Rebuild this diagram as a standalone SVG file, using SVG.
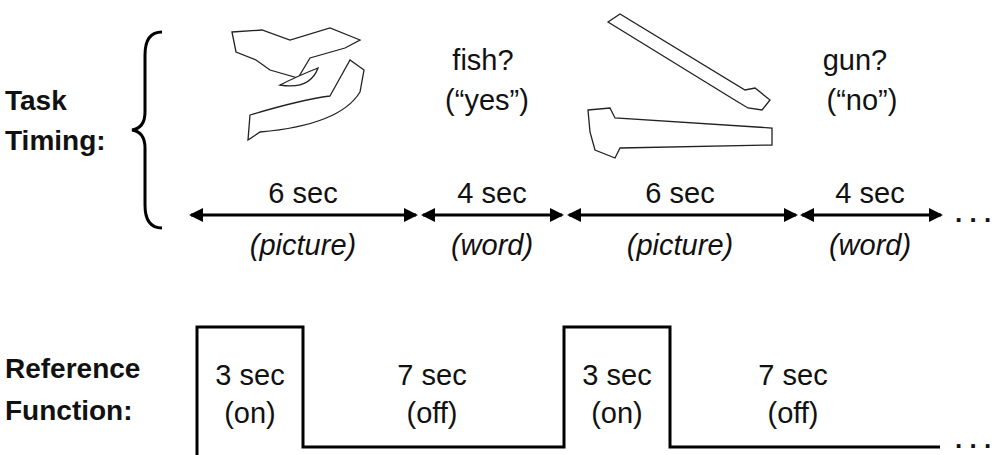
<svg xmlns="http://www.w3.org/2000/svg" width="999" height="455" viewBox="0 0 999 455">
<style>
text{font-family:"Liberation Sans",Arial,sans-serif;fill:#111}
.t{font-size:29px;text-anchor:middle}
.b{font-size:28px;font-weight:bold}
.i{font-style:italic}
.d{font-size:26px;font-weight:bold}
.ln{stroke:#000;stroke-width:3;fill:none}
.dr{stroke:#222;stroke-width:1.3;fill:#fff}
</style>
<defs>
<marker id="a" markerWidth="14" markerHeight="14" refX="12" refY="7" orient="auto-start-reverse" markerUnits="userSpaceOnUse" viewBox="0 0 14 14">
<path d="M0,0 L14,7 L0,14 z" fill="#000"/>
</marker>
</defs>
<g id="labels">
<text class="b" x="5" y="110">Task</text>
<text class="b" x="5" y="150">Timing:</text>
<text class="b" x="5" y="378">Reference</text>
<text class="b" x="5" y="420">Function:</text>
<path class="ln" stroke-width="2.5" d="M162,32 Q145,32 145,55 L145,112 Q145,128 132,130 Q145,132 145,148 L145,205 Q145,228 162,228"/>
</g>
<g id="pictures">
<path class="dr" d="M232,32 L262,30 L290,40 L330,28 L360,40 L345,48 L310,58 L298,78 L270,70 L256,60 L236,52 Z"/>
<path class="dr" d="M318,68 Q310,90 280,85 Q300,75 318,68 Z"/>
<path class="dr" d="M250,115 Q300,100 330,96 L350,60 L364,70 L360,92 Q340,125 260,132 L248,140 Z"/>
<path class="dr" d="M608,22 L620,14 L745,90 L755,88 L770,100 L762,110 L748,108 L738,102 Z"/>
<path class="dr" d="M588,110 L610,108 L615,118 L772,128 L772,145 L620,148 L615,158 L595,150 L590,132 Z"/>
</g>
<g id="texts">
<text class="t" x="483" y="70">fish?</text>
<text class="t" x="487" y="110">(“yes”)</text>
<text class="t" x="855" y="70">gun?</text>
<text class="t" x="862" y="110">(“no”)</text>
<text class="t" x="303" y="203">6 sec</text>
<text class="t" x="492" y="203">4 sec</text>
<text class="t" x="680" y="203">6 sec</text>
<text class="t" x="870" y="203">4 sec</text>
<text class="t i" x="303" y="255">(picture)</text>
<text class="t i" x="492" y="255">(word)</text>
<text class="t i" x="680" y="255">(picture)</text>
<text class="t i" x="870" y="255">(word)</text>
<text class="d" x="955" y="222">. . .</text>
<text class="t" x="250" y="385">3 sec</text>
<text class="t" x="250" y="423">(on)</text>
<text class="t" x="432" y="385">7 sec</text>
<text class="t" x="432" y="423">(off)</text>
<text class="t" x="617" y="385">3 sec</text>
<text class="t" x="617" y="423">(on)</text>
<text class="t" x="793" y="385">7 sec</text>
<text class="t" x="793" y="423">(off)</text>
<text class="d" x="955" y="448">. . .</text>
</g>
<g id="connectors">
<line class="ln" x1="191" y1="215" x2="416" y2="215" marker-start="url(#a)" marker-end="url(#a)"/>
<line class="ln" x1="423" y1="215" x2="562" y2="215" marker-start="url(#a)" marker-end="url(#a)"/>
<line class="ln" x1="569" y1="215" x2="796" y2="215" marker-start="url(#a)" marker-end="url(#a)"/>
<line class="ln" x1="802" y1="215" x2="941" y2="215" marker-start="url(#a)" marker-end="url(#a)"/>
<path class="ln" d="M197,455 L197,327 L303,327 L303,447 L564,447 L564,327 L670,327 L670,447 L940,447"/>
</g>
</svg>
